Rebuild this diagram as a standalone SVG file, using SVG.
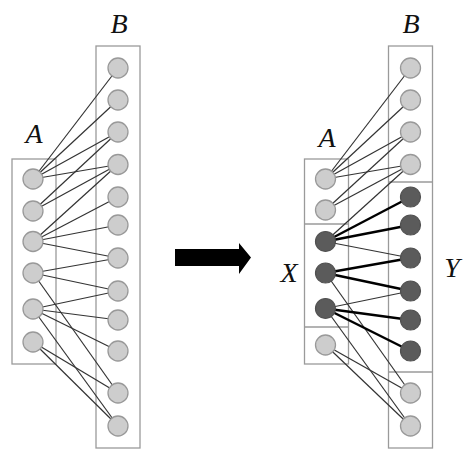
<svg xmlns="http://www.w3.org/2000/svg" width="474" height="460" viewBox="0 0 474 460">
<style>
.box{fill:none;stroke:#9a9a9a;stroke-width:1.3}
.e{stroke:#333;stroke-width:1.2;fill:none}
.t{stroke:#000;stroke-width:2.4;fill:none}
.n{fill:#cdcdcd;stroke:#999;stroke-width:1.3}
.d{fill:#5b5b5b;stroke:#505050;stroke-width:1.2}
.lbl{font-family:"Liberation Serif","Times New Roman",serif;font-style:italic;font-size:28px;fill:#111}
</style>
<rect width="474" height="460" fill="#fff"/>
<g id="boxes">
<rect class="box" x="12" y="159" width="44" height="205"/>
<rect class="box" x="96" y="46" width="44" height="402"/>
<rect class="box" x="304.5" y="159" width="44" height="205"/>
<line class="box" x1="304.5" y1="224" x2="348.5" y2="224"/>
<line class="box" x1="304.5" y1="327" x2="348.5" y2="327"/>
<rect class="box" x="388.5" y="46" width="44" height="402"/>
<line class="box" x1="388.5" y1="182" x2="432.5" y2="182"/>
<line class="box" x1="388.5" y1="372" x2="432.5" y2="372"/>
</g>
<g id="labels">
<text class="lbl" x="34" y="143" text-anchor="middle">A</text>
<text class="lbl" x="119" y="33" text-anchor="middle">B</text>
<text class="lbl" x="327" y="147" text-anchor="middle">A</text>
<text class="lbl" x="411" y="33" text-anchor="middle">B</text>
<text class="lbl" x="289" y="282" text-anchor="middle">X</text>
<text class="lbl" x="452" y="277" text-anchor="middle">Y</text>
</g>
<g id="connectors">
<line class="e" x1="33" y1="179" x2="118" y2="68"/>
<line class="e" x1="33" y1="179" x2="118" y2="100"/>
<line class="e" x1="33" y1="179" x2="118" y2="132"/>
<line class="e" x1="33" y1="179" x2="118" y2="164.5"/>
<line class="e" x1="33" y1="211" x2="118" y2="132"/>
<line class="e" x1="33" y1="211" x2="118" y2="164.5"/>
<line class="e" x1="33" y1="241.5" x2="118" y2="164.5"/>
<line class="e" x1="33" y1="241.5" x2="118" y2="197"/>
<line class="e" x1="33" y1="241.5" x2="118" y2="225"/>
<line class="e" x1="33" y1="241.5" x2="118" y2="258"/>
<line class="e" x1="33" y1="273" x2="118" y2="258"/>
<line class="e" x1="33" y1="273" x2="118" y2="291"/>
<line class="e" x1="33" y1="273" x2="118" y2="393"/>
<line class="e" x1="33" y1="309" x2="118" y2="291"/>
<line class="e" x1="33" y1="309" x2="118" y2="320"/>
<line class="e" x1="33" y1="309" x2="118" y2="351"/>
<line class="e" x1="33" y1="309" x2="118" y2="426"/>
<line class="e" x1="33" y1="342" x2="118" y2="393"/>
<line class="e" x1="33" y1="342" x2="118" y2="426"/>

<line class="e" x1="325.5" y1="179" x2="410.5" y2="68"/>
<line class="e" x1="325.5" y1="179" x2="410.5" y2="100"/>
<line class="e" x1="325.5" y1="179" x2="410.5" y2="132"/>
<line class="e" x1="325.5" y1="179" x2="410.5" y2="164.5"/>
<line class="e" x1="325.5" y1="210" x2="410.5" y2="132"/>
<line class="e" x1="325.5" y1="210" x2="410.5" y2="164.5"/>
<line class="e" x1="325.5" y1="241.5" x2="410.5" y2="164.5"/>
<line class="t" x1="325.5" y1="241.5" x2="410.5" y2="197"/>
<line class="t" x1="325.5" y1="241.5" x2="410.5" y2="225"/>
<line class="e" x1="325.5" y1="241.5" x2="410.5" y2="258"/>
<line class="t" x1="325.5" y1="273" x2="410.5" y2="258"/>
<line class="t" x1="325.5" y1="273" x2="410.5" y2="291"/>
<line class="e" x1="325.5" y1="273" x2="410.5" y2="393"/>
<line class="e" x1="325.5" y1="308.5" x2="410.5" y2="291"/>
<line class="t" x1="325.5" y1="308.5" x2="410.5" y2="320"/>
<line class="t" x1="325.5" y1="308.5" x2="410.5" y2="351"/>
<line class="e" x1="325.5" y1="308.5" x2="410.5" y2="426"/>
<line class="e" x1="325.5" y1="345" x2="410.5" y2="393"/>
<line class="e" x1="325.5" y1="345" x2="410.5" y2="426"/>
</g>
<g id="arrow"><polygon points="175,249 239,249 239,243 251,257.5 239,274 239,266 175,266" fill="#000"/></g>
<g id="L_A1"><circle class="n" cx="33" cy="179" r="10"/></g>
<g id="L_A2"><circle class="n" cx="33" cy="211" r="10"/></g>
<g id="L_A3"><circle class="n" cx="33" cy="241.5" r="10"/></g>
<g id="L_A4"><circle class="n" cx="33" cy="273" r="10"/></g>
<g id="L_A5"><circle class="n" cx="33" cy="309" r="10"/></g>
<g id="L_A6"><circle class="n" cx="33" cy="342" r="10"/></g>
<g id="L_B1"><circle class="n" cx="118" cy="68" r="10"/></g>
<g id="L_B2"><circle class="n" cx="118" cy="100" r="10"/></g>
<g id="L_B3"><circle class="n" cx="118" cy="132" r="10"/></g>
<g id="L_B4"><circle class="n" cx="118" cy="164.5" r="10"/></g>
<g id="L_B5"><circle class="n" cx="118" cy="197" r="10"/></g>
<g id="L_B6"><circle class="n" cx="118" cy="225" r="10"/></g>
<g id="L_B7"><circle class="n" cx="118" cy="258" r="10"/></g>
<g id="L_B8"><circle class="n" cx="118" cy="291" r="10"/></g>
<g id="L_B9"><circle class="n" cx="118" cy="320" r="10"/></g>
<g id="L_B10"><circle class="n" cx="118" cy="351" r="10"/></g>
<g id="L_B11"><circle class="n" cx="118" cy="393" r="10"/></g>
<g id="L_B12"><circle class="n" cx="118" cy="426" r="10"/></g>
<g id="R_A1"><circle class="n" cx="325.5" cy="179" r="10"/></g>
<g id="R_A2"><circle class="n" cx="325.5" cy="210" r="10"/></g>
<g id="R_A3"><circle class="d" cx="325.5" cy="241.5" r="10"/></g>
<g id="R_A4"><circle class="d" cx="325.5" cy="273" r="10"/></g>
<g id="R_A5"><circle class="d" cx="325.5" cy="308.5" r="10"/></g>
<g id="R_A6"><circle class="n" cx="325.5" cy="345" r="10"/></g>
<g id="R_B1"><circle class="n" cx="410.5" cy="68" r="10"/></g>
<g id="R_B2"><circle class="n" cx="410.5" cy="100" r="10"/></g>
<g id="R_B3"><circle class="n" cx="410.5" cy="132" r="10"/></g>
<g id="R_B4"><circle class="n" cx="410.5" cy="164.5" r="10"/></g>
<g id="R_B5"><circle class="d" cx="410.5" cy="197" r="10"/></g>
<g id="R_B6"><circle class="d" cx="410.5" cy="225" r="10"/></g>
<g id="R_B7"><circle class="d" cx="410.5" cy="258" r="10"/></g>
<g id="R_B8"><circle class="d" cx="410.5" cy="291" r="10"/></g>
<g id="R_B9"><circle class="d" cx="410.5" cy="320" r="10"/></g>
<g id="R_B10"><circle class="d" cx="410.5" cy="351" r="10"/></g>
<g id="R_B11"><circle class="n" cx="410.5" cy="393" r="10"/></g>
<g id="R_B12"><circle class="n" cx="410.5" cy="426" r="10"/></g>
</svg>
